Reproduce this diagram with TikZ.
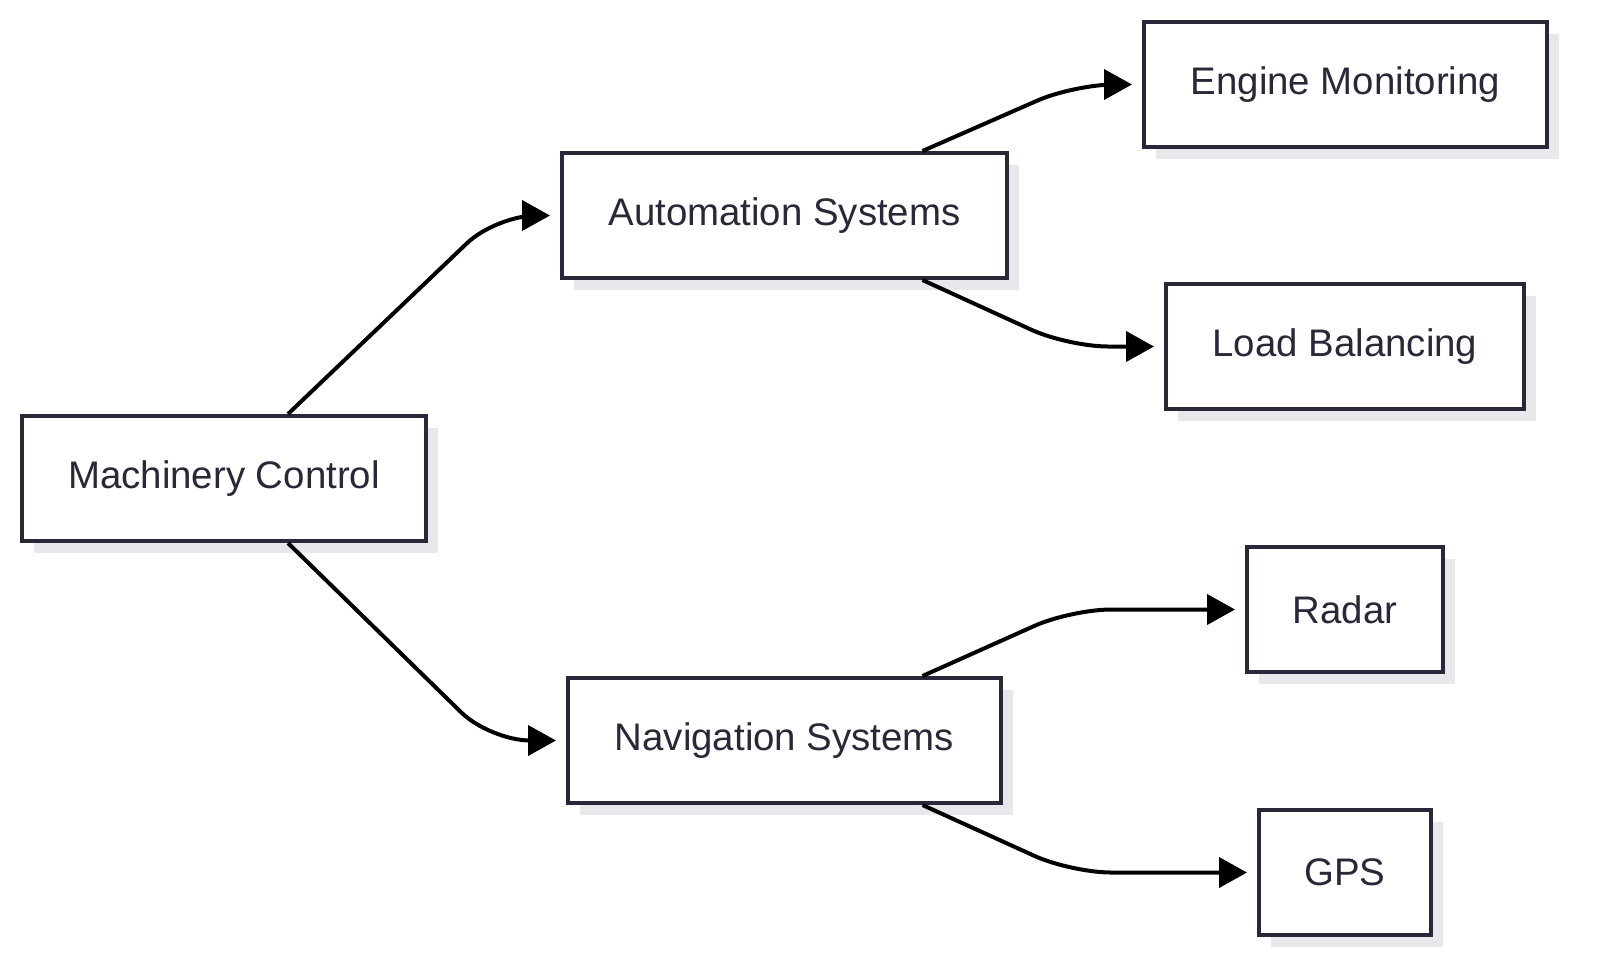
\documentclass[tikz,border=0pt]{standalone}
\usepackage{fontspec}
\setmainfont{Liberation Sans}
\usetikzlibrary{arrows.meta}
\definecolor{ink}{HTML}{2A2838}
\definecolor{shadowcol}{HTML}{E8E8EC}
\begin{document}
\begin{tikzpicture}[x=0.5pt,y=-0.5pt,
  box/.style={draw=ink,line width=2pt,fill=white,inner sep=0pt,font=\fontsize{19.2}{22}\selectfont\color{ink},
    minimum height=62.5pt},
  edge/.style={line width=2pt,rounded corners=20pt,-{Triangle[length=14pt,width=15pt]}}]
\useasboundingbox (0,0) rectangle (1600,976);
\foreach \a/\b/\c/\d in {22/416/426/541,562/153/1007/278,568/678/1001/803,1144/22/1547/147,1166/284/1524/409,1247/547/1443/672,1259/810/1431/935}
  \fill[shadowcol] (\a+12,\b+12) rectangle (\c+12,\d+12);
\node[box,minimum width=202pt] (mc) at (224,478.5) {Machinery Control};
\node[box,minimum width=222.5pt] (as) at (784.5,215.5) {Automation Systems};
\node[box,minimum width=216.5pt] (ns) at (784.5,740.5) {Navigation Systems};
\node[box,minimum width=201.5pt] (em) at (1345.5,84.5) {Engine Monitoring};
\node[box,minimum width=179pt] (lb) at (1345,346.5) {Load Balancing};
\node[box,minimum width=98pt] (ra) at (1345,609.5) {Radar};
\node[box,minimum width=86pt] (gp) at (1345,872.5) {GPS};
\coordinate (c1) at (496,215.5);
\coordinate (c2) at (490,740.5);
\coordinate (c3) at (1074,84.5);
\coordinate (c4) at (1068,346.5);
\coordinate (c5) at (1071,609.5);
\coordinate (c6) at (1071,872.5);
\draw[edge] ([xshift=32pt]mc.north) -- (c1) -- ([xshift=-5pt]as.west);
\draw[edge] ([xshift=32pt]mc.south) -- (c2) -- ([xshift=-5pt]ns.west);
\draw[edge] ([xshift=69pt]as.north) -- (c3) -- ([xshift=-5pt]em.west);
\draw[edge] ([xshift=69pt]as.south) -- (c4) -- ([xshift=-5pt]lb.west);
\draw[edge] ([xshift=69pt]ns.north) -- (c5) -- ([xshift=-5pt]ra.west);
\draw[edge] ([xshift=69pt]ns.south) -- (c6) -- ([xshift=-5pt]gp.west);
\end{tikzpicture}
\end{document}
